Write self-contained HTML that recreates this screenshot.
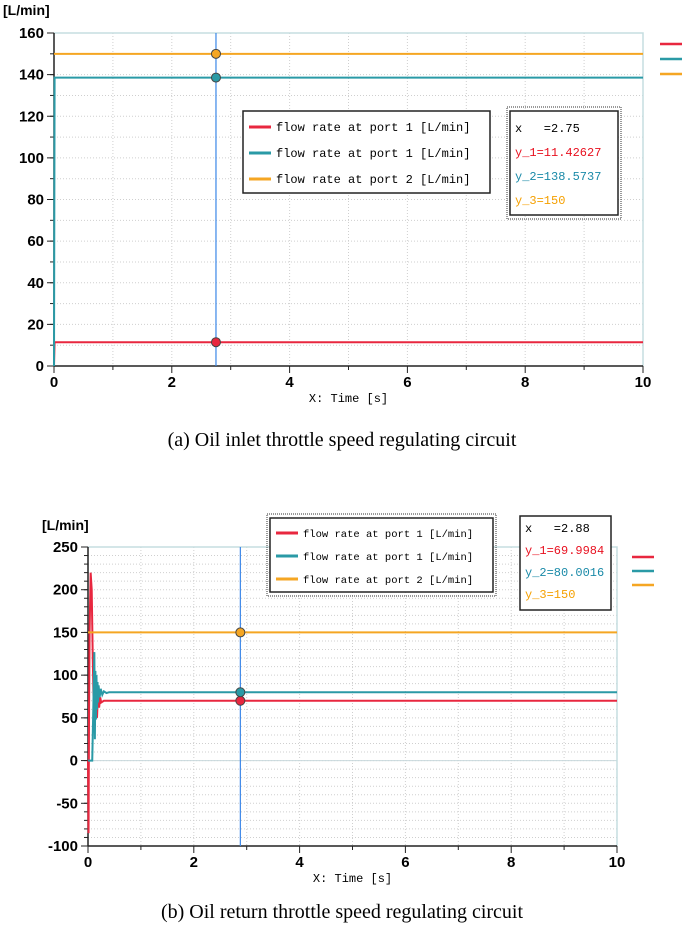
<!DOCTYPE html>
<html><head><meta charset="utf-8"><style>
body{margin:0;background:#fff;width:685px;height:928px;overflow:hidden}
svg{display:block}
text{white-space:pre}
.ax{font-family:"Liberation Sans",Arial,sans-serif;font-size:15px;font-weight:bold;fill:#000}
.mono{font-family:"Liberation Mono",monospace;font-size:12px}
.cap{font-family:"Liberation Serif",serif;font-size:20px;fill:#000}
</style></head><body>
<svg id="svg" width="685" height="928" xmlns="http://www.w3.org/2000/svg"></svg>
<script>
// Chart A data
const aYTicks=[0,20,40,60,80,100,120,140,160];
const aXTicks=[0,2,4,6,8,10];
const aSeriesNames=["flow rate at port 1 [L/min]","flow rate at port 1 [L/min]","flow rate at port 2 [L/min]"];
const aT=[0,0.01,10];
const aY1=[0,11.43,11.43];
const aY2=[0,138.57,138.57];
const aY3=[150,150,150];
const aCursor=2.75;
const aCursorVals=[11.42627,138.5737,150];
const aReadout=["x   =2.75","y_1=11.42627","y_2=138.5737","y_3=150"];
// Chart B data
const bYTicks=[-100,-50,0,50,100,150,200,250];
const bXTicks=[0,2,4,6,8,10];
const bT1=[0,0.01,0.02,0.03,0.05,0.07,0.09,0.11,0.13,0.15,0.17,0.19,0.21,0.23,0.25,0.3,0.4,10];
const bY1=[0,-85,60,150,220,200,120,55,40,95,50,80,62,74,68,70,70,70];
const bT2=[0,0.04,0.08,0.1,0.12,0.13,0.14,0.15,0.16,0.17,0.18,0.19,0.2,0.22,0.24,0.27,0.3,0.35,0.4,10];
const bY2=[0,0,0,60,127,25,105,48,100,60,92,68,88,74,84,77,81,79,80,80];
const bY3T=[0,10];
const bY3=[150,150];
const bCursor=2.88;
const bCursorVals=[69.9984,80.0016,150];
const bReadout=["x   =2.88","y_1=69.9984","y_2=80.0016","y_3=150"];
const colors=["#e8273f","#2a9aa6","#f5a623"];
const tcol=["#000","#e8101f","#1a8aa8","#f5a000"];

const NS="http://www.w3.org/2000/svg";
const svg=document.getElementById('svg');
function mk(tag,attrs,parent,text){const e=document.createElementNS(NS,tag);for(const k in attrs)e.setAttribute(k,attrs[k]);if(text!==undefined)e.textContent=text;(parent||svg).appendChild(e);return e;}

function chart(o){
  const g=mk('g',{});
  
  
  const sx=v=>o.x0+(v-o.xmin)/(o.xmax-o.xmin)*(o.x1-o.x0);
  const sy=v=>o.y0-(v-o.ymin)/(o.ymax-o.ymin)*(o.y0-o.y1);
  for(let v=o.ymin;v<=o.ymax;v+=o.minorY){const y=sy(v);const l=mk('line',{x1:o.x0,x2:o.x1,y1:y,y2:y,stroke:'#cfcfcf','stroke-width':1,'stroke-dasharray':'1,2'},g);}
  for(let v=o.xmin;v<=o.xmax;v+=1){const x=sx(v);const l=mk('line',{x1:x,x2:x,y1:o.y1,y2:o.y0,stroke:'#cfcfcf','stroke-width':1,'stroke-dasharray':'1,2'},g);}
  if(o.zero){const z=mk('line',{x1:o.x0,x2:o.x1,y1:sy(0),y2:sy(0),stroke:'#c8d8dc','stroke-width':1},g);}
  mk('polyline',{points:`${o.x0},${o.y1} ${o.x1},${o.y1} ${o.x1},${o.y0}`,fill:'none',stroke:'#c5dde0','stroke-width':1.5},g);
  const ya=mk('line',{x1:o.x0,x2:o.x0,y1:o.y1,y2:o.y0,stroke:'#222','stroke-width':1.5},g);
  const xa=mk('line',{x1:o.x0,x2:o.x1,y1:o.y0,y2:o.y0,stroke:'#222','stroke-width':1.5},g);
  for(let v=o.ymin;v<=o.ymax;v+=o.minorY){mk('line',{x1:o.x0-4,x2:o.x0,y1:sy(v),y2:sy(v),stroke:'#222'},g);}
  o.yTicks.forEach(v=>{mk('line',{x1:o.x0-7,x2:o.x0,y1:sy(v),y2:sy(v),stroke:'#222'},g);
    const t=mk('text',{x:o.x0-10,y:sy(v)+5,'text-anchor':'end',class:'ax'},g,String(v));});
  for(let v=o.xmin;v<=o.xmax;v+=1){mk('line',{x1:sx(v),x2:sx(v),y1:o.y0,y2:o.y0+(v%2?4:7),stroke:'#222'},g);}
  o.xTicks.forEach(v=>{const t=mk('text',{x:sx(v),y:o.y0+21,'text-anchor':'middle',class:'ax'},g,String(v));});
  const xt=mk('text',{x:(o.x0+o.x1)/2,y:o.y0+36,'text-anchor':'middle',class:'mono'},g,'X: Time [s]');
  const yt=mk('text',{x:o.ytx,y:o.yty,class:'ax',style:'font-size:14px'},g,'[L/min]');
  o.series.forEach((s,i)=>{const p=mk('polyline',{points:s.t.map((t,j)=>sx(t)+','+sy(s.v[j])).join(' '),fill:'none',stroke:colors[i],'stroke-width':2},g);
    });
  const c=mk('line',{x1:sx(o.cursor),x2:sx(o.cursor),y1:o.y1,y2:o.y0,stroke:'#3a86e8','stroke-width':1.2},g);
  o.cursorVals.forEach((v,i)=>{const d=mk('circle',{cx:sx(o.cursor),cy:sy(v),r:4.5,fill:colors[i],stroke:'#444','stroke-width':1},g);});
  const L=o.legend;
  if(L.dotted) mk('rect',{x:L.x-3,y:L.y-4,width:L.w+6,height:L.h+8,fill:'none',stroke:'#333','stroke-dasharray':'1,1'},g);
  const lb=mk('rect',{x:L.x,y:L.y,width:L.w,height:L.h,fill:'#fff',stroke:'#222','stroke-width':1.5},g);
  aSeriesNames.forEach((n,i)=>{const y=L.y+L.pad+i*L.step;
    mk('line',{x1:L.x+6,x2:L.x+28,y1:y,y2:y,stroke:colors[i],'stroke-width':3},g);
    const t=mk('text',{x:L.x+33,y:y+4,class:'mono',style:'font-size:'+L.fs+'px'},g,n);});
  const R=o.read;
  if(R.dotted) mk('rect',{x:R.x-3,y:R.y-4,width:R.w+6,height:R.h+8,fill:'none',stroke:'#333','stroke-dasharray':'1,1'},g);
  const rb=mk('rect',{x:R.x,y:R.y,width:R.w,height:R.h,fill:'#fff',stroke:'#222','stroke-width':1.5},g);
  o.readout.forEach((s,i)=>{const t=mk('text',{x:R.x+5,y:R.y+R.pad+i*R.step,class:'mono',fill:tcol[i]},g,s);});
  colors.forEach((c,i)=>{const l=mk('line',{x1:o.mx,x2:o.mx+22,y1:o.my+i*o.mstep,y2:o.my+i*o.mstep,stroke:c,'stroke-width':2.5},g);});
  const cap=mk('text',{x:342,y:o.capy,'text-anchor':'middle',class:'cap'},g,o.caption);
}
chart({name:'chart-a',x0:54,x1:643,y0:366,y1:33,xmin:0,xmax:10,ymin:0,ymax:160,minorY:10,yTicks:aYTicks,xTicks:aXTicks,ytx:3,yty:15,
 series:[{t:aT,v:aY1},{t:aT,v:aY2},{t:aT,v:aY3}],cursor:aCursor,cursorVals:aCursorVals,readout:aReadout,
 legend:{x:243,y:111,w:247,h:82,pad:16,step:26,dotted:false,fs:12},read:{x:510,y:111,w:108,h:104,pad:21,step:24,dotted:true},
 mx:660,my:44,mstep:15,capy:446,caption:'(a) Oil inlet throttle speed regulating circuit'});
chart({name:'chart-b',x0:88,x1:617,y0:846,y1:547,xmin:0,xmax:10,ymin:-100,ymax:250,minorY:10,yTicks:bYTicks,xTicks:bXTicks,ytx:42,yty:530,zero:true,
 series:[{t:bT1,v:bY1},{t:bT2,v:bY2},{t:bY3T,v:bY3}],cursor:bCursor,cursorVals:bCursorVals,readout:bReadout,
 legend:{x:270,y:518,w:223,h:74,pad:15,step:23,dotted:true,fs:10.5},read:{x:520,y:516,w:91,h:94,pad:16,step:22,dotted:false},
 mx:632,my:557,mstep:14,capy:918,caption:'(b) Oil return throttle speed regulating circuit'});
</script>
</body></html>
